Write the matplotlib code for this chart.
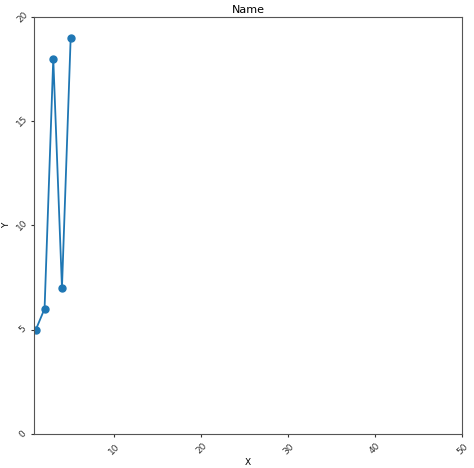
import matplotlib
matplotlib.use("Agg")
import matplotlib.pyplot as plt

x = [1, 2, 3, 4, 5]
y = [5, 6, 18, 7, 19]

fig, ax = plt.subplots(figsize=(4.74, 4.68), dpi=100)
fig.subplots_adjust(left=0.072, right=0.975, top=0.964, bottom=0.073)
ax.plot(x, y, marker='o', markersize=5, color='#1f77b4', linewidth=1.3)
ax.set_xlim(right=50)
ax.set_ylim(0, 20)
ax.set_xticks([10, 20, 30, 40, 50])
ax.set_yticks([0, 5, 10, 15, 20])
ax.tick_params(axis='both', labelsize=6.5, length=2.5, pad=3, colors='#333333')
for lab in ax.get_xticklabels():
    lab.set_rotation(45)
    lab.set_ha('center')
for lab in ax.get_yticklabels():
    lab.set_rotation(45)
    lab.set_ha('center')
    lab.set_va('center')
ax.tick_params(axis='y', pad=6)
for s in ax.spines.values():
    s.set_color('#555555')
ax.set_xlabel('X', fontsize=6.5)
ax.set_ylabel('Y', fontsize=6.5)
ax.xaxis.set_label_coords(0.5, -0.057)
ax.yaxis.set_label_coords(-0.054, 0.5)
ax.set_title('Name', fontsize=8, pad=3)
fig.savefig('out.png', dpi=100)
